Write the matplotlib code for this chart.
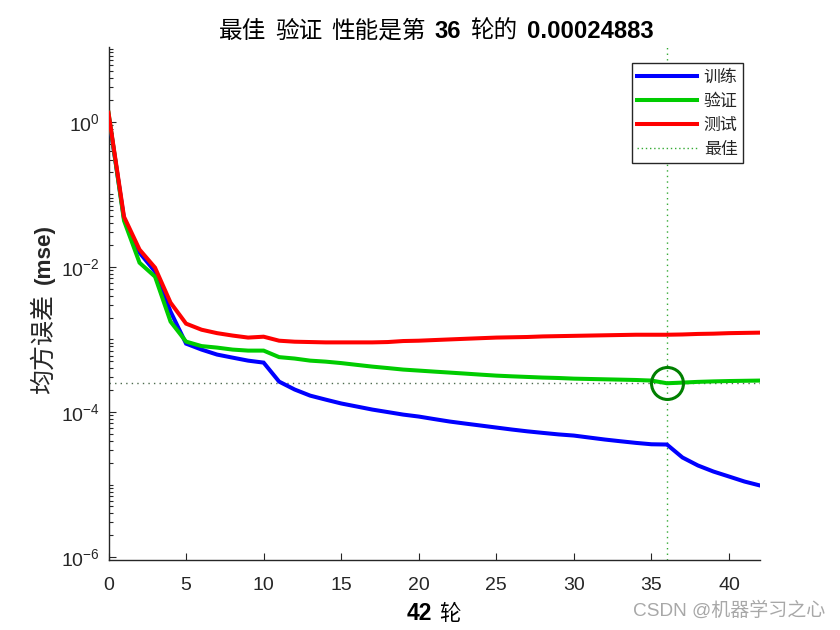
import numpy as np
import matplotlib
matplotlib.use("Agg")
import matplotlib.pyplot as plt
from matplotlib.lines import Line2D
from matplotlib.ticker import FixedLocator, LogFormatterMathtext, NullFormatter
from matplotlib.transforms import IdentityTransform

LAT = "Liberation Sans"
CJK = "Noto Sans CJK SC"
plt.rcParams["font.family"] = [LAT, CJK, "DejaVu Sans"]
plt.rcParams["mathtext.default"] = "regular"

epochs = list(range(43))
train = [1.25, 0.0461, 0.0157, 0.0086, 0.00242, 0.000875, 0.000724, 0.000618, 0.000561, 0.000510,
         0.000479, 0.000262, 0.000204, 0.000168, 0.000148, 0.000131, 0.000119, 0.000108, 0.0000997,
         0.0000920, 0.0000865, 0.0000798, 0.0000738, 0.0000692, 0.0000650, 0.0000610, 0.0000573,
         0.0000541, 0.0000515, 0.0000491, 0.0000473, 0.0000444, 0.0000417, 0.0000395, 0.0000375,
         0.0000359, 0.0000356, 0.0000236, 0.0000183, 0.0000151, 0.0000129, 0.0000110, 0.0000097]
valid = [1.33, 0.0433, 0.0114, 0.00733, 0.00176, 0.000933, 0.000809, 0.000771, 0.000724, 0.000701,
         0.000701, 0.000570, 0.000545, 0.000510, 0.000494, 0.000472, 0.000446, 0.000422, 0.000403,
         0.000384, 0.000372, 0.000360, 0.000349, 0.000338, 0.000327, 0.000317, 0.000310, 0.000304,
         0.000298, 0.000294, 0.000288, 0.000285, 0.000282, 0.000279, 0.000276, 0.000271, 0.00024883,
         0.000254, 0.000260, 0.000264, 0.000267, 0.000269, 0.000271]
test = [1.33, 0.0491, 0.0173, 0.00975, 0.00321, 0.00165, 0.00136, 0.00122, 0.00113, 0.00106,
        0.00109, 0.00096, 0.00093, 0.00092, 0.00091, 0.00091, 0.00091, 0.00091, 0.00092, 0.00095,
        0.00096, 0.00098, 0.00100, 0.00102, 0.00104, 0.00106, 0.00107, 0.00108, 0.00110, 0.00111,
        0.00112, 0.00113, 0.00114, 0.00115, 0.00116, 0.00116, 0.00116, 0.00117, 0.00119, 0.00120,
        0.00122, 0.00123, 0.00124]
best_epoch = 36
best_value = 0.00024883
series_labels = ["训练", "验证", "测试", "最佳"]
x_ticks = [0, 5, 10, 15, 20, 25, 30, 35, 40]
y_major = [1e-6, 1e-4, 1e-2, 1e0]

INK = "#262626"
fig = plt.figure(figsize=(8.4, 6.3), dpi=100)
ax = fig.add_axes([108.5 / 840, 70 / 630, 651.5 / 840, 513 / 630])
ax.set_yscale("log")
ax.set_xlim(0, 42)
ax.set_ylim(10 ** -6.04, 10 ** 1.03)

ax.axvline(best_epoch, color="#33aa33", lw=1.0, ls=(0, (1, 3)), zorder=1)
ax.axhline(best_value, color="#4d6b4d", lw=1.0, ls=(0, (1, 3)), zorder=1)
ax.plot(epochs, train, color="#0000ff", lw=2.9, solid_joinstyle="miter", zorder=3)
ax.plot(epochs, valid, color="#00cc00", lw=2.9, solid_joinstyle="miter", zorder=4)
ax.plot(epochs, test, color="#ff0000", lw=2.9, solid_joinstyle="miter", zorder=5)
ax.plot([best_epoch], [best_value], "o", mfc="none", mec="#008000", mew=2.2, ms=23, zorder=6)

for s in ("top", "right"):
    ax.spines[s].set_visible(False)
for s in ("left", "bottom"):
    ax.spines[s].set_color(INK)
    ax.spines[s].set_linewidth(1.0)

ax.set_xticks(x_ticks)
minor = [m * 10.0 ** e for e in range(-7, 2) for m in range(1, 10)]
minor = [v for v in minor if v not in y_major and 10 ** -6.04 < v < 10 ** 1.03]
ax.yaxis.set_major_locator(FixedLocator(y_major))
ax.yaxis.set_minor_locator(FixedLocator(minor))
ax.yaxis.set_major_formatter(LogFormatterMathtext())
ax.yaxis.set_minor_formatter(NullFormatter())
ax.tick_params(axis="both", which="major", direction="in", length=5, width=0.8,
               colors=INK, labelsize=14)
ax.tick_params(axis="y", which="minor", direction="in", length=3, width=0.8, colors=INK)
ax.tick_params(axis="x", pad=12.5)
ax.tick_params(axis="y", pad=6)

handles = [Line2D([], [], color="#0000ff", lw=2.9),
           Line2D([], [], color="#00cc00", lw=2.9),
           Line2D([], [], color="#ff0000", lw=2.9),
           Line2D([], [], color="#33aa33", lw=1.0, ls=(0, (1, 2)))]
leg = ax.legend(handles, series_labels, loc="upper left",
                bbox_to_anchor=((632 - 108.5) / 651.5, (560 - 63) / 513),
                prop={"family": CJK, "size": 12.2}, fancybox=False, framealpha=1,
                edgecolor=INK, borderpad=0.3, handlelength=3.55, handletextpad=0.38,
                labelspacing=0.36, borderaxespad=0)
leg.get_frame().set_linewidth(1.0)
for t in leg.get_texts():
    t.set_color(INK)


def mixed(cx, cy, segs, gap, vertical=False):
    """Draw text pieces end to end, centred on pixel (cx, cy from the top)."""
    r = fig.canvas.get_renderer()
    widths = []
    for s, fam, w, size in segs:
        t = fig.text(0, 0, s, family=fam, weight=w, size=size)
        widths.append(t.get_window_extent(r).width)
        t.remove()
    total = sum(widths) + gap * (len(segs) - 1)
    pos = -total / 2
    for (s, fam, w, size), wd in zip(segs, widths):
        mid = pos + wd / 2
        if vertical:
            x, y = cx, 630 - cy + mid
        else:
            x, y = cx + mid, 630 - cy
        fig.text(x, y, s, family=fam, weight=w, size=size, color="black" if not vertical else INK,
                 rotation=90 if vertical else 0, ha="center", va="center",
                 transform=IdentityTransform())
        pos += wd + gap


fig.canvas.draw()
mixed(436, 31, [("最佳", CJK, "normal", 17), ("验证", CJK, "normal", 17),
                ("性能是第", CJK, "normal", 17), ("36", LAT, "bold", 17.2),
                ("轮的", CJK, "normal", 17), ("0.00024883", LAT, "bold", 17.2)], 9)
mixed(434, 614, [("42", LAT, "bold", 16.5), ("轮", CJK, "normal", 15.5)], 7)
mixed(44, 309, [("均方误差", CJK, "normal", 18), ("(mse)", LAT, "bold", 16.2)], 10, vertical=True)

fig.text(825 / 840, 1 - 611 / 630, "CSDN @机器学习之心", family=[LAT, CJK], size=13.7,
         color="#a8a8a8", ha="right", va="center")

fig.savefig("out.png", dpi=100)
